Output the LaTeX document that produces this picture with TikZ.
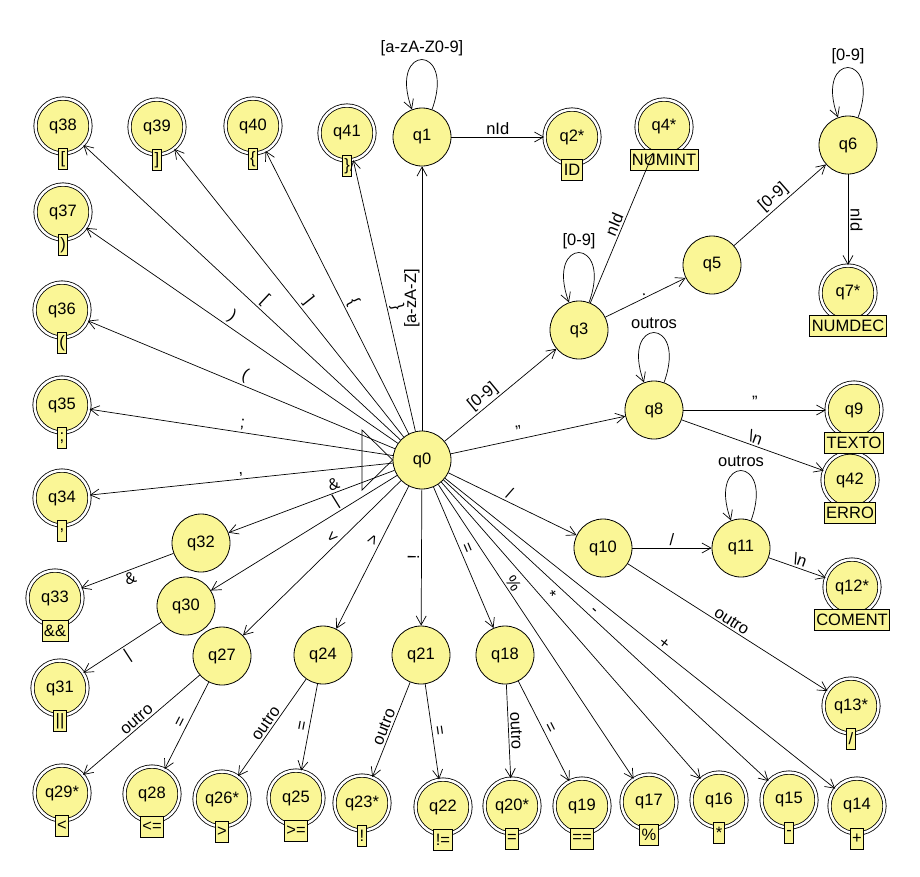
\documentclass[tikz,border=0pt]{standalone}
\usepackage{fontspec}
\setmainfont{Liberation Sans}
\usetikzlibrary{arrows.meta,shapes.geometric}
\definecolor{sty}{RGB}{250,246,150}
\begin{document}
\begin{tikzpicture}[x=1pt,y=-1pt,font=\fontsize{16.5}{18}\selectfont,
  >={Straight Barb[length=9pt,width=10pt]},
  st/.style={circle,draw,fill=sty,minimum size=58pt,inner sep=0pt,line width=0.8pt},
  acc/.style={circle,draw,fill=sty,double,double distance=2.5pt,line width=0.8pt,minimum size=55pt,inner sep=0pt},
  tag/.style={draw,fill=sty,inner sep=2pt,anchor=north,minimum height=21pt,line width=0.8pt},
  el/.style={midway,sloped,above,inner sep=2pt},
  lp/.style={->,line width=0.7pt,out=70,in=110,looseness=9},
  ar/.style={->,line width=0.7pt}]
\useasboundingbox (0,0) rectangle (920,876);
% states
\node[st] (q0) at (422,460) {q0};
\node[st] (q1) at (422,137) {q1};
\node[acc] (q2) at (572,137) {q2*};
\node[acc] (q4) at (664,127) {q4*};
\node[st] (q3) at (579,330) {q3};
\node[st] (q5) at (712,265) {q5};
\node[st] (q6) at (848,145) {q6};
\node[acc] (q7) at (848,293) {q7*};
\node[st] (q8) at (654,410) {q8};
\node[acc] (q9) at (854,410) {q9};
\node[acc] (q42) at (850,480) {q42};
\node[st] (q10) at (603,548) {q10};
\node[st] (q11) at (741,548) {q11};
\node[acc] (q12) at (852,587) {q12*};
\node[acc] (q13) at (851,706) {q13*};
\node[acc] (q14) at (857,806) {q14};
\node[acc] (q15) at (789,800) {q15};
\node[acc] (q16) at (719,800) {q16};
\node[acc] (q17) at (649,802) {q17};
\node[st] (q18) at (505,655) {q18};
\node[acc] (q19) at (582,806) {q19};
\node[acc] (q20) at (512,806) {q20*};
\node[acc] (q22) at (443,807) {q22};
\node[st] (q21) at (421,655) {q21};
\node[acc] (q23) at (362,803) {q23*};
\node[acc] (q25) at (296,798) {q25};
\node[st] (q24) at (323,655) {q24};
\node[acc] (q26) at (222,799) {q26*};
\node[st] (q27) at (222,656) {q27};
\node[acc] (q28) at (152,794) {q28};
\node[acc] (q29) at (62,793) {q29*};
\node[st] (q30) at (186,606) {q30};
\node[acc] (q31) at (60,688) {q31};
\node[st] (q32) at (201,543) {q32};
\node[acc] (q33) at (55,598) {q33};
\node[acc] (q34) at (62,498) {q34};
\node[acc] (q35) at (62,405) {q35};
\node[acc] (q36) at (62,310) {q36};
\node[acc] (q37) at (63,212) {q37};
\node[acc] (q38) at (63,126) {q38};
\node[acc] (q39) at (157,127) {q39};
\node[acc] (q40) at (253,126) {q40};
\node[acc] (q41) at (347,133) {q41};
% tags
\foreach \n/\t in {q2/ID,q4/NUMINT,q7/NUMDEC,q9/TEXTO,q42/ERRO,q12/COMENT,q13/{/},q14/+,q15/-,q16/*,q17/\%,q19/==,q20/=,q22/!=,q23/!,q25/>=,q26/>,q28/<=,q29/<,q31/||,q33/\&\&,q34/{,},q35/;,q36/(,q37/),q38/[,q39/],q40/\{,q41/\}}
  \node[tag] (t\n) at ([yshift=-22pt]\n.center) {\t};
% initial marker
\coordinate (i1) at (362,430); \coordinate (i2) at (362,490);
\draw[line width=0.7pt] (i1) -- (q0.west) -- (i2) -- cycle;
% edges from q0
\draw[ar] (q0) -- node[el]{[a-zA-Z]} (q1);
\draw[ar] (q0) -- node[el,pos=0.4]{[0-9]} (q3);
\draw[ar] (q0) -- node[el,pos=0.4]{"} (q8);
\draw[ar] (q0) -- node[el,pos=0.45]{/} (q10);
\draw[ar] (q0) -- node[el,pos=0.55]{+} (q14);
\draw[ar] (q0) -- node[el,pos=0.45]{-} (q15);
\draw[ar] (q0) -- node[el,pos=0.4]{*} (q16);
\draw[ar] (q0) -- node[el,pos=0.35]{\%} (q17);
\draw[ar] (q0) -- node[el,pos=0.45]{=} (q18);
\draw[ar] (q0) -- node[el,pos=0.5]{!} (q21);
\draw[ar] (q0) -- node[el,pos=0.4]{>} (q24);
\draw[ar] (q0) -- node[el,pos=0.4]{<} (q27);
\draw[ar] (q0) -- node[el,pos=0.3]{|} (q30);
\draw[ar] (q0) -- node[el,pos=0.35]{\&} (q32);
\draw[ar] (q0) -- node[el,pos=0.5]{,} (q34);
\draw[ar] (q0) -- node[el,pos=0.5]{;} (q35);
\draw[ar] (q0) -- node[el,pos=0.5]{(} (q36);
\draw[ar] (q0) -- node[el,pos=0.55]{)} (q37);
\draw[ar] (q0) -- node[el,pos=0.45]{[} (q38);
\draw[ar] (q0) -- node[el,pos=0.45]{]} (q39);
\draw[ar] (q0) -- node[el,pos=0.45]{\{} (q40);
\draw[ar] (q0) -- node[el,pos=0.45]{\}} (q41);
% others
\draw[ar] (q1) -- node[el]{nId} (q2);
\draw[lp] (q1) to node[above]{[a-zA-Z0-9]} (q1);
\draw[lp] (q3) to node[above]{[0-9]} (q3);
\draw[ar] (q3) -- node[el]{nId} (q4);
\draw[ar] (q3) -- node[el]{.} (q5);
\draw[ar] (q5) -- node[el]{[0-9]} (q6);
\draw[lp] (q6) to node[above]{[0-9]} (q6);
\draw[ar] (q6) -- node[el]{nId} (q7);
\draw[lp] (q8) to node[above]{outros} (q8);
\draw[ar] (q8) -- node[el]{"} (q9);
\draw[ar] (q8) -- node[el]{\textbackslash n} (q42);
\draw[ar] (q10) -- node[el]{/} (q11);
\draw[lp] (q11) to node[above]{outros} (q11);
\draw[ar] (q11) -- node[el]{\textbackslash n} (q12);
\draw[ar] (q10) -- node[el]{outro} (q13);
\draw[ar] (q32) -- node[el,below]{\&} (q33);
\draw[ar] (q30) -- node[el,below]{|} (q31);
\draw[ar] (q27) -- node[el]{outro} (q29);
\draw[ar] (q27) -- node[el]{=} (q28);
\draw[ar] (q24) -- node[el]{outro} (q26);
\draw[ar] (q24) -- node[el]{=} (q25);
\draw[ar] (q21) -- node[el]{outro} (q23);
\draw[ar] (q21) -- node[el]{=} (q22);
\draw[ar] (q18) -- node[el]{outro} (q20);
\draw[ar] (q18) -- node[el]{=} (q19);
\end{tikzpicture}
\end{document}
